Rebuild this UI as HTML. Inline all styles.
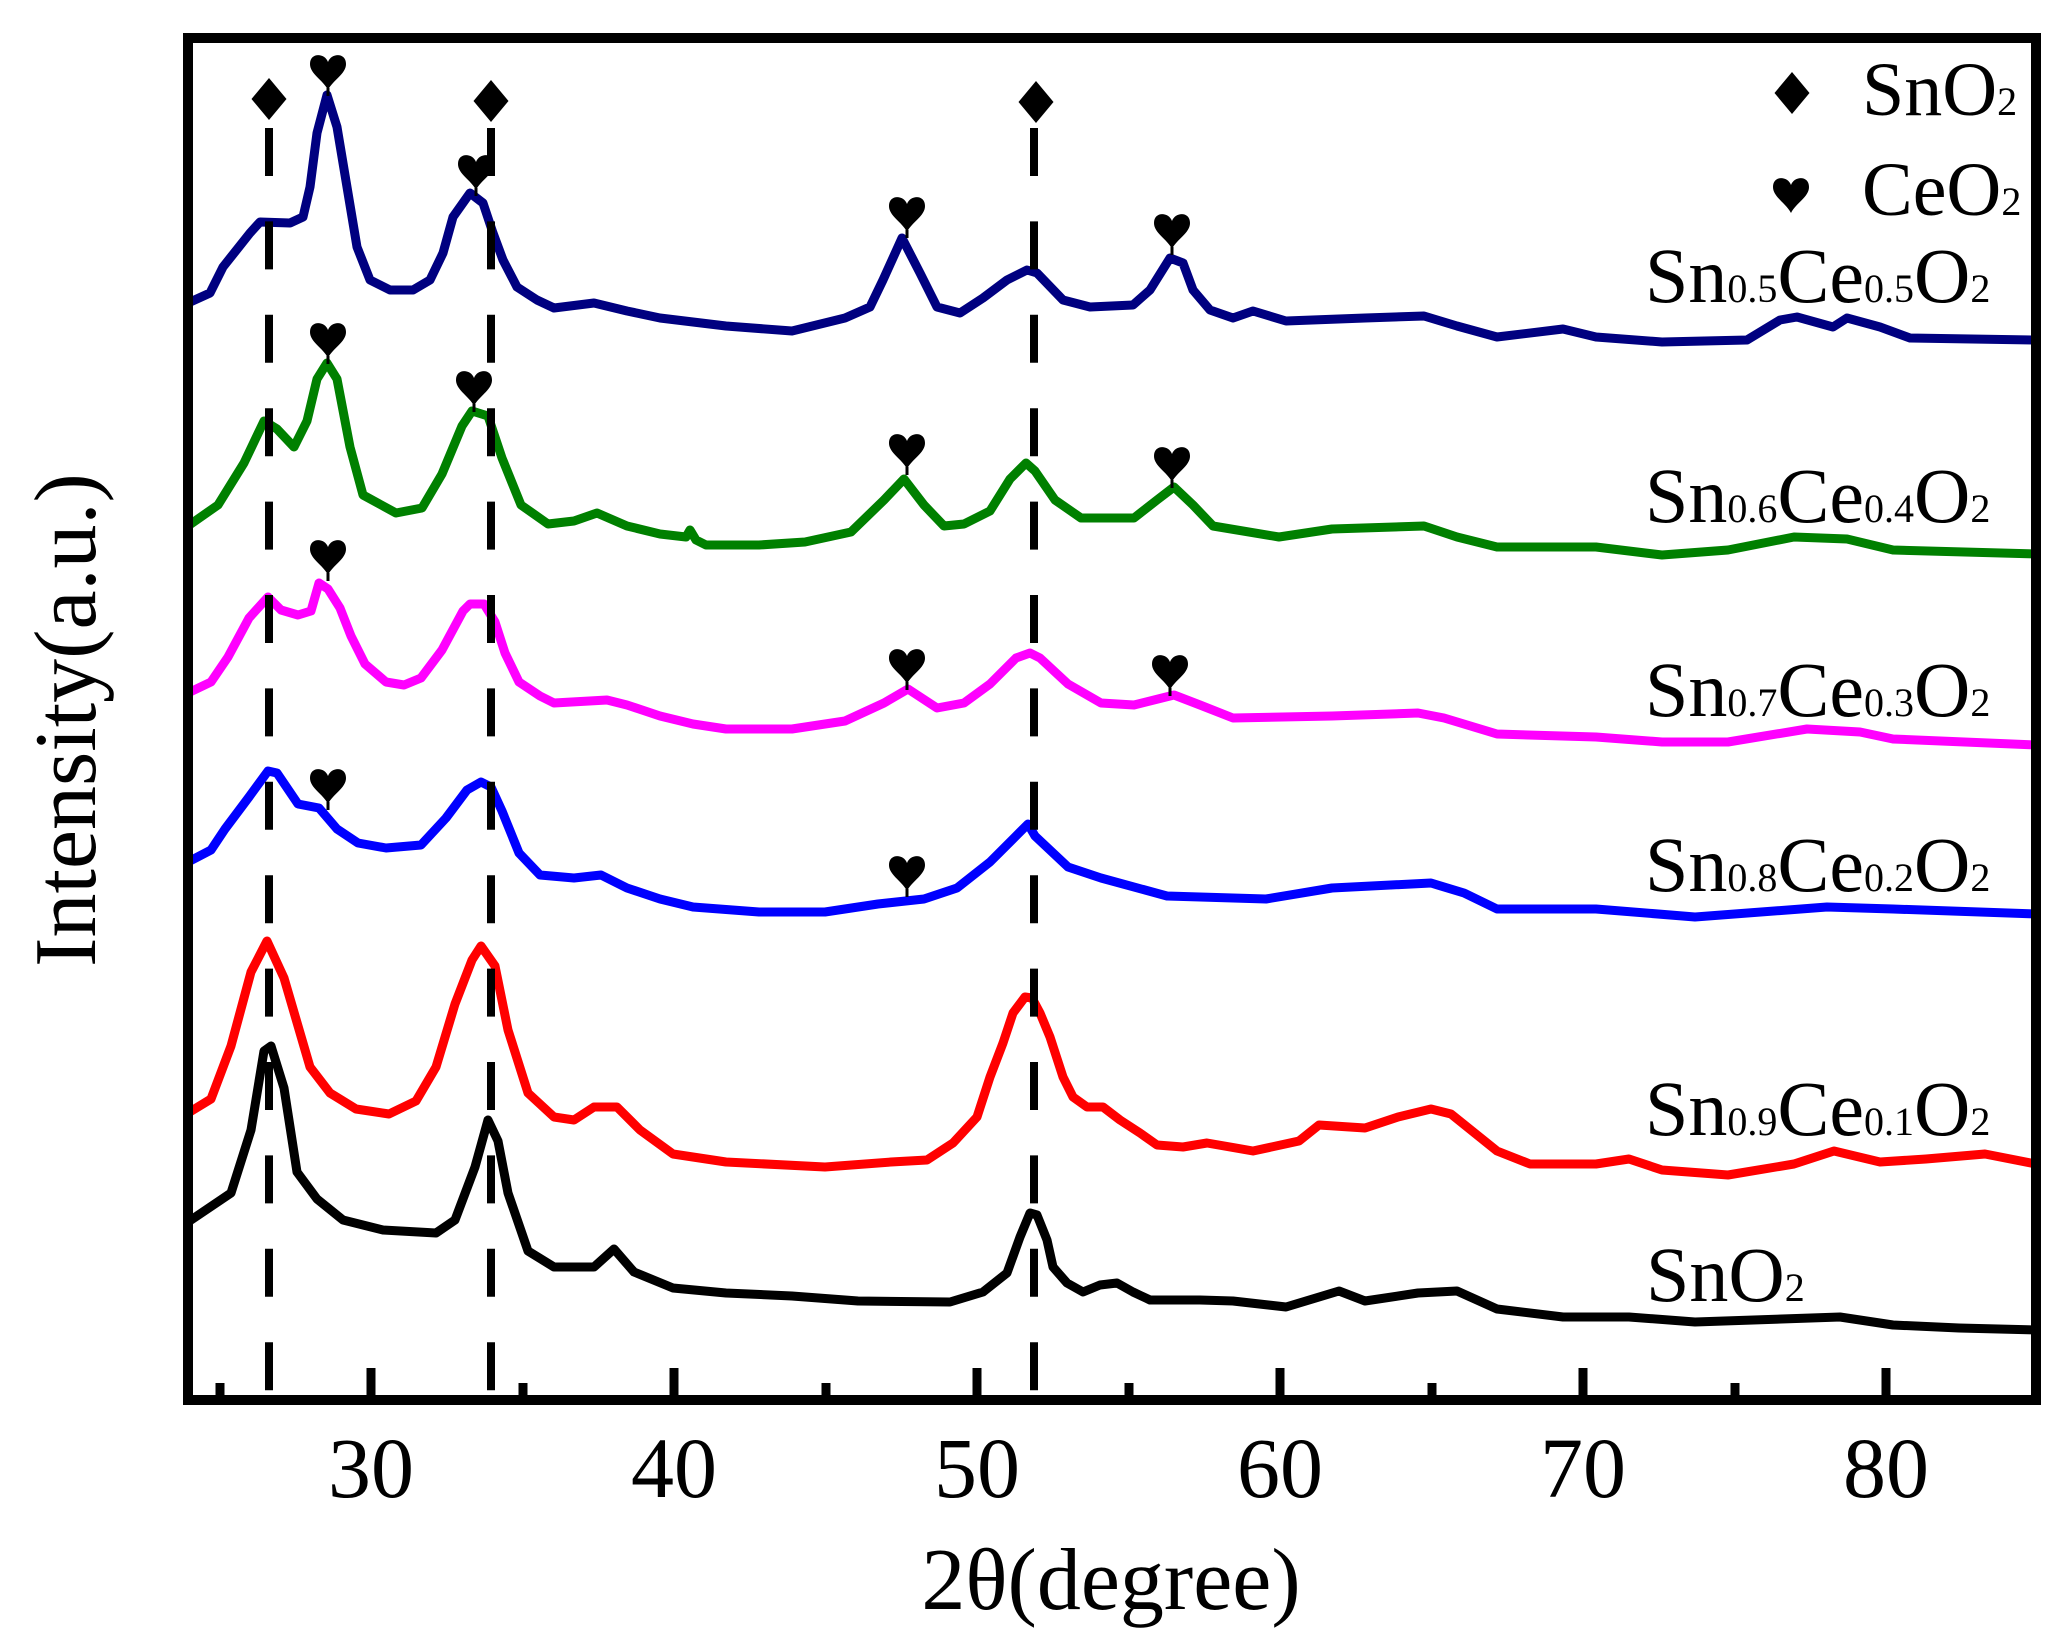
<!DOCTYPE html>
<html>
<head>
<meta charset="utf-8">
<style>
html,body{margin:0;padding:0;background:#fff;}
svg{display:block;}
text{font-family:"Liberation Serif","Times New Roman",serif;fill:#000;}
</style>
</head>
<body>
<svg width="2070" height="1650" viewBox="0 0 2070 1650" xmlns="http://www.w3.org/2000/svg">
<defs>
<path id="hrt" d="M0,9 C-3,0 -18,-1 -18,11 C-18,21 -5,27 0,37 C5,27 18,21 18,11 C18,-1 3,0 0,9 Z"/>
<path id="dia" d="M0,-21 L17.5,0 L0,21 L-17.5,0 Z"/>
<clipPath id="plot"><rect x="188" y="38" width="1848" height="1362"/></clipPath>
</defs>
<rect width="2070" height="1650" fill="#fff"/>

<g clip-path="url(#plot)" fill="none" stroke-width="9" stroke-linejoin="round" stroke-linecap="round">
<polyline stroke="#000080" points="188,303 210,293 223,267 250,233 260,222 290,223 303,217 310,187 317,133 327,95 337,127 347,187 357,247 370,280 390,290 413,290 430,280 443,253 453,217 470,193 483,203 493,233 503,260 517,287 537,300 554,308 594,303 627,311 660,318 726,326 792,331 845,318 870,307 883,280 902,238 920,273 937,307 960,313 983,298 1007,280 1027,270 1037,273 1063,300 1090,307 1133,305 1150,290 1170,258 1183,263 1193,290 1210,310 1233,318 1253,311 1286,321 1365,318 1424,316 1457,326 1497,337 1563,329 1596,337 1662,342 1747,340 1780,320 1797,317 1833,327 1847,318 1880,327 1910,338 2036,340"/>
<polyline stroke="#008000" points="188,526 218,505 244,463 264,421 277,429 294,447 307,421 317,379 327,363 337,379 350,447 363,495 396,513 422,508 442,474 462,426 472,411 488,416 502,458 521,505 548,524 574,521 597,513 627,526 660,534 686,537 690,530 696,540 706,545 759,545 805,542 851,532 884,500 904,479 924,505 944,526 964,524 990,511 1010,479 1026,463 1035,471 1055,500 1081,518 1134,518 1157,500 1174,487 1193,505 1213,526 1279,537 1332,529 1424,526 1457,537 1497,547 1596,547 1662,555 1728,550 1794,537 1847,539 1893,550 2036,554"/>
<polyline stroke="#ff00ff" points="188,693 211,682 228,657 249,618 268,597 281,610 298,615 311,611 319,583 328,589 340,608 351,636 365,664 386,682 404,685 421,678 442,650 463,611 470,604 484,604 495,622 505,653 519,682 540,696 554,703 607,700 627,705 660,716 693,724 726,729 792,729 845,721 884,703 908,689 937,708 964,703 990,684 1016,658 1030,653 1040,658 1068,684 1101,703 1134,705 1174,695 1200,705 1233,718 1332,716 1418,713 1444,718 1497,734 1596,737 1662,742 1728,742 1807,729 1860,732 1893,739 2036,745"/>
<polyline stroke="#0000ff" points="188,862 211,850 225,829 249,797 268,771 277,773 298,804 319,808 337,829 358,843 386,848 421,845 446,818 467,790 481,782 491,787 502,811 519,853 540,875 574,878 601,875 627,888 660,899 693,907 759,912 825,912 878,904 924,899 957,888 990,862 1016,836 1028,824 1035,836 1068,867 1101,878 1167,896 1266,899 1332,888 1431,883 1464,893 1497,909 1596,909 1695,917 1827,907 1893,909 2036,914"/>
<polyline stroke="#ff0000" points="188,1113 211,1099 231,1046 251,972 267,941 284,978 310,1067 330,1093 356,1109 389,1114 416,1101 436,1067 455,1004 472,960 481,946 495,966 508,1030 528,1093 554,1117 574,1120 594,1107 617,1107 640,1130 673,1154 726,1162 825,1167 891,1162 927,1160 953,1143 977,1117 990,1077 1003,1043 1013,1013 1025,997 1032,998 1040,1013 1050,1037 1063,1077 1073,1097 1087,1107 1103,1107 1120,1120 1140,1133 1157,1145 1183,1147 1207,1143 1253,1151 1299,1141 1319,1125 1365,1128 1398,1117 1431,1109 1451,1114 1497,1151 1530,1164 1596,1164 1629,1159 1662,1170 1728,1175 1794,1164 1834,1151 1880,1162 1926,1159 1985,1154 2036,1164"/>
<polyline stroke="#000000" points="188,1222 231,1193 251,1130 264,1051 271,1046 284,1088 297,1172 317,1199 343,1220 383,1230 436,1233 455,1220 475,1167 488,1120 498,1141 508,1193 528,1251 554,1267 594,1267 614,1249 634,1272 673,1288 726,1293 792,1296 858,1301 950,1302 983,1292 1007,1273 1020,1237 1030,1213 1037,1215 1047,1240 1053,1267 1067,1283 1083,1292 1100,1285 1117,1283 1133,1292 1150,1300 1200,1300 1233,1301 1286,1307 1339,1291 1365,1301 1418,1293 1457,1291 1497,1309 1563,1317 1629,1317 1695,1322 1840,1317 1893,1325 1959,1328 2036,1330"/>
</g>

<!-- dashed reference lines -->
<g stroke="#000" stroke-width="8" stroke-dasharray="48 45.4">
<line x1="269" y1="128" x2="269" y2="1396"/>
<line x1="491" y1="128" x2="491" y2="1396"/>
<line x1="1034" y1="128" x2="1034" y2="1396"/>
</g>

<!-- markers -->
<g fill="#000">
<use href="#dia" x="269" y="99"/>
<use href="#dia" x="491" y="101"/>
<use href="#dia" x="1036" y="102"/>
<use href="#dia" x="1792" y="93"/>

<use href="#hrt" x="328" y="53"/>
<use href="#hrt" x="476" y="153"/>
<use href="#hrt" x="907" y="195"/>
<use href="#hrt" x="1172" y="212"/>

<use href="#hrt" x="328" y="321"/>
<use href="#hrt" x="474" y="369"/>
<use href="#hrt" x="907" y="432"/>
<use href="#hrt" x="1172" y="445"/>

<use href="#hrt" x="328" y="538"/>
<use href="#hrt" x="907" y="647"/>
<use href="#hrt" x="1170" y="653"/>

<use href="#hrt" x="328" y="767"/>
<use href="#hrt" x="907" y="854"/>

<use href="#hrt" x="1791" y="176"/>
</g>
<g stroke="#000" stroke-width="3">
<line x1="328" y1="88" x2="328" y2="96"/>
<line x1="476" y1="188" x2="476" y2="196"/>
<line x1="907" y1="230" x2="907" y2="238"/>
<line x1="1172" y1="247" x2="1172" y2="255"/>
<line x1="328" y1="356" x2="328" y2="364"/>
<line x1="474" y1="404" x2="474" y2="412"/>
<line x1="907" y1="467" x2="907" y2="475"/>
<line x1="1172" y1="480" x2="1172" y2="488"/>
<line x1="328" y1="573" x2="328" y2="581"/>
<line x1="907" y1="682" x2="907" y2="690"/>
<line x1="1170" y1="688" x2="1170" y2="696"/>
<line x1="328" y1="802" x2="328" y2="810"/>
<line x1="907" y1="889" x2="907" y2="897"/>
</g>

<!-- axes frame -->
<rect x="188" y="38" width="1848" height="1362" fill="none" stroke="#000" stroke-width="10"/>

<!-- ticks -->
<g stroke="#000" stroke-width="9">
<line x1="371" y1="1368" x2="371" y2="1398"/>
<line x1="674" y1="1368" x2="674" y2="1398"/>
<line x1="977" y1="1368" x2="977" y2="1398"/>
<line x1="1280" y1="1368" x2="1280" y2="1398"/>
<line x1="1583" y1="1368" x2="1583" y2="1398"/>
<line x1="1886" y1="1368" x2="1886" y2="1398"/>
<line x1="220" y1="1383" x2="220" y2="1398"/>
<line x1="523" y1="1383" x2="523" y2="1398"/>
<line x1="826" y1="1383" x2="826" y2="1398"/>
<line x1="1129" y1="1383" x2="1129" y2="1398"/>
<line x1="1432" y1="1383" x2="1432" y2="1398"/>
<line x1="1735" y1="1383" x2="1735" y2="1398"/>
</g>

<!-- tick labels -->
<g font-size="86" text-anchor="middle">
<text x="371" y="1497">30</text>
<text x="674" y="1497">40</text>
<text x="977" y="1497">50</text>
<text x="1280" y="1497">60</text>
<text x="1583" y="1497">70</text>
<text x="1886" y="1497">80</text>
</g>

<!-- axis titles -->
<text x="1111" y="1609" font-size="88" text-anchor="middle">2θ(degree)</text>
<text transform="translate(95,720) rotate(-90)" font-size="88" text-anchor="middle">Intensity(a.u.)</text>

<!-- legend -->
<text x="1862" y="115" font-size="76">SnO<tspan font-size="40">2</tspan></text>
<text x="1862" y="215" font-size="76">CeO<tspan font-size="40">2</tspan></text>

<!-- series labels -->
<g font-size="78">
<text x="1645" y="302">Sn<tspan font-size="40">0.5</tspan>Ce<tspan font-size="40">0.5</tspan>O<tspan font-size="40">2</tspan></text>
<text x="1645" y="522">Sn<tspan font-size="40">0.6</tspan>Ce<tspan font-size="40">0.4</tspan>O<tspan font-size="40">2</tspan></text>
<text x="1645" y="716">Sn<tspan font-size="40">0.7</tspan>Ce<tspan font-size="40">0.3</tspan>O<tspan font-size="40">2</tspan></text>
<text x="1645" y="891">Sn<tspan font-size="40">0.8</tspan>Ce<tspan font-size="40">0.2</tspan>O<tspan font-size="40">2</tspan></text>
<text x="1645" y="1135">Sn<tspan font-size="40">0.9</tspan>Ce<tspan font-size="40">0.1</tspan>O<tspan font-size="40">2</tspan></text>
<text x="1646" y="1301">SnO<tspan font-size="40">2</tspan></text>
</g>
</svg>
</body>
</html>
